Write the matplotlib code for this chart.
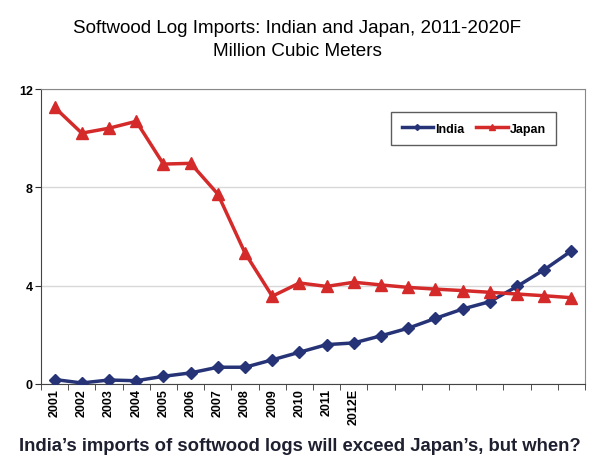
import matplotlib
matplotlib.use("Agg")
import matplotlib.pyplot as plt

plt.rcParams["font.family"] = ["Liberation Sans", "DejaVu Sans"]

years = list(range(2001, 2021))
tick_labels = ["2001", "2002", "2003", "2004", "2005", "2006", "2007", "2008",
               "2009", "2010", "2011", "2012E", "", "", "", "", "", "", "", ""]
india = [0.18, 0.04, 0.16, 0.13, 0.31, 0.45, 0.68, 0.68, 0.98, 1.29,
         1.60, 1.67, 1.96, 2.27, 2.67, 3.05, 3.35, 3.97, 4.65, 5.42]
japan = [11.26, 10.21, 10.41, 10.69, 8.95, 8.98, 7.73, 5.33, 3.57, 4.11,
         3.97, 4.14, 4.03, 3.93, 3.86, 3.80, 3.73, 3.66, 3.59, 3.51]

fig = plt.figure(figsize=(5.94, 4.77), dpi=100)
ax = fig.add_axes([0.069, 0.193, 0.916, 0.618])

x = list(range(len(years)))
ax.plot(x, india, color="#263477", lw=2.5, marker="D", markersize=6, label="India", zorder=3)
ax.plot(x, japan, color="#D42A2A", lw=2.5, marker="^", markersize=8, label="Japan", zorder=3)

ax.set_xlim(-0.5, len(years) - 0.5)
ax.set_ylim(0, 12)
ax.set_yticks([0, 4, 8, 12])
ax.set_yticklabels(["0", "4", "8", "12"], fontweight="bold", fontsize=9)
ax.yaxis.grid(True, color="#d8d8d8", lw=1)
ax.set_axisbelow(True)

# category labels centered, ticks on boundaries
ax.set_xticks(x)
ax.set_xticklabels(tick_labels, rotation=90, fontweight="bold", fontsize=9)
ax.tick_params(axis="x", length=0, pad=3)
ax.set_xticks([i - 0.5 for i in range(len(years) + 1)], minor=True)
ax.tick_params(axis="x", which="minor", length=4, color="#333333")
ax.tick_params(axis="y", length=4, color="#333333", pad=2)

for s in ["top", "right"]:
    ax.spines[s].set_color("#888888")
ax.spines["left"].set_color("#444444")
ax.spines["bottom"].set_color("#444444")

leg = ax.legend(loc="upper right", bbox_to_anchor=(0.947, 0.922), ncol=2, frameon=True,
                fancybox=False, edgecolor="#333333", prop={"weight": "bold", "size": 9},
                handlelength=2.5, handletextpad=0.15, columnspacing=1.0,
                borderpad=0.85, borderaxespad=0, markerscale=0.5)
leg.get_frame().set_linewidth(1.0)

fig.text(0.5, 0.941, "Softwood Log Imports: Indian and Japan, 2011-2020F",
         ha="center", va="center", fontsize=13.6)
fig.text(0.5, 0.892, "Million Cubic Meters", ha="center", va="center", fontsize=13.6)
fig.text(0.505, 0.063, "India\u2019s imports of softwood logs will exceed Japan\u2019s, but when?",
         ha="center", va="center", fontsize=13.3, fontweight="bold", color="#1e2030")

fig.savefig("out.png", dpi=100)
